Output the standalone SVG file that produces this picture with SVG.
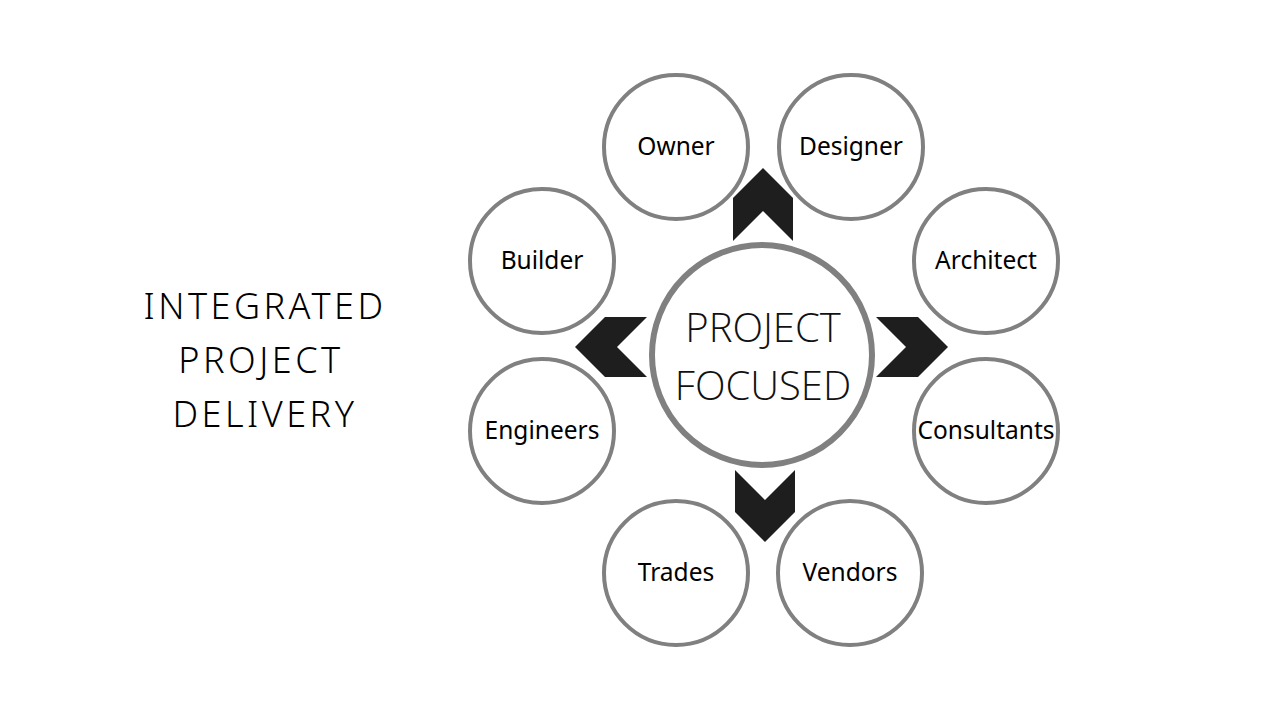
<svg xmlns="http://www.w3.org/2000/svg" width="1280" height="720" viewBox="0 0 1280 720">
<style>
.n{fill:#fff;stroke:#808080;stroke-width:4}
.l{font-family:"Noto Sans",sans-serif;font-size:24.5px;fill:#000;text-anchor:middle}
.t{font-family:"Noto Sans",sans-serif;font-weight:300;font-size:36px;letter-spacing:3.5px;fill:#000;text-anchor:middle}
.c{font-family:"Open Sans",sans-serif;font-weight:300;font-size:40px;fill:#111;text-anchor:middle}
.a{fill:#1e1e1e}
</style>
<rect width="1280" height="720" fill="#fff"/>
<g id="title"><text class="t" x="265" y="319">INTEGRATED</text><text class="t" x="261" y="373">PROJECT</text><text class="t" x="265" y="427">DELIVERY</text></g>
<g id="connectors">
<polygon class="a" points="763,168 793,198 793,241 763,211 733,241 733,198"/>
<polygon class="a" points="575,347 605,317 647,317 617,347 647,377 605,377"/>
<polygon class="a" points="948,347 918,317 876,317 906,347 876,377 918,377"/>
<polygon class="a" points="735,470 765,500 795,470 795,512 765,542 735,512"/>
</g>
<g id="center"><circle cx="762" cy="355" r="110" fill="#fff" stroke="#808080" stroke-width="6"/><text class="c" x="763" y="342">PROJECT</text><text class="c" x="763" y="400">FOCUSED</text></g>
<g id="owner"><circle class="n" cx="676" cy="147" r="72"/><text class="l" x="676" y="155">Owner</text></g>
<g id="designer"><circle class="n" cx="851" cy="147" r="72"/><text class="l" x="851" y="155">Designer</text></g>
<g id="builder"><circle class="n" cx="542" cy="261" r="72"/><text class="l" x="542" y="269">Builder</text></g>
<g id="architect"><circle class="n" cx="986" cy="261" r="72"/><text class="l" x="986" y="269">Architect</text></g>
<g id="engineers"><circle class="n" cx="542" cy="431" r="72"/><text class="l" x="542" y="439">Engineers</text></g>
<g id="consultants"><circle class="n" cx="986" cy="431" r="72"/><text class="l" x="986" y="439">Consultants</text></g>
<g id="trades"><circle class="n" cx="676" cy="573" r="72"/><text class="l" x="676" y="581">Trades</text></g>
<g id="vendors"><circle class="n" cx="850" cy="573" r="72"/><text class="l" x="850" y="581">Vendors</text></g>
</svg>
